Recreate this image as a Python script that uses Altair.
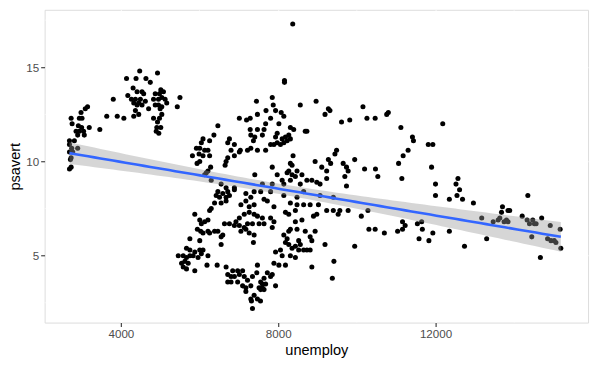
import altair as alt
import numpy as np
import pandas as pd

# unemploy / psavert values (grouped by region)
unemploy = [
    4478, 4931, 4143, 4385, 4637, 4747, 4310, 4176, 4411, 4537, 4579, 5015, 4981, 4873, 5082,
    4268, 4369, 4495, 4327, 4453, 4621, 4830, 4956, 5040, 5124, 5502, 4411, 4537, 4705, 4873,
    4956, 5040, 5165, 5434, 4369, 4453, 4327, 4998, 5040, 4981, 4830, 4931, 3806, 3640, 3907,
    4075, 3152, 3094, 2986, 2943, 3011, 2734, 2759, 2918, 3001, 2860, 2943, 3051, 3195, 2901,
    3069, 3464, 4913, 5014, 4898, 4964, 2692, 2817, 2692, 2750, 2901, 2692, 2775, 2734, 2717,
    2734, 2692,
    7447, 7690, 7472, 7012, 7195, 7288, 6466, 7288, 7472, 7640, 7304, 7405, 7598, 7371, 6088,
    6046, 6256, 6365, 6760, 6717, 6886, 6801, 5920, 6005, 6130, 6214, 5988, 6088, 6256, 5819,
    7037, 7220, 7304, 7472, 7681, 7012, 6886, 6717, 6675, 6650, 6005, 5937, 6282, 6214, 6172,
    6130, 7405, 6549, 6675, 6886, 6297,
    8370, 8160, 8160, 7849, 7874, 7933, 8562, 8964, 9316, 10156, 8076,
    9276, 9191, 8143, 7807, 7681, 8018, 8310, 8394, 7975, 7933, 9611, 9820, 8688, 8730, 8185,
    8269, 8310, 7975, 8058, 8143, 7892, 7807, 8227, 8101, 8378, 9485, 9443, 9276, 9334, 8939,
    9108, 9233, 9653, 9737, 9779, 9946, 8310, 8353, 7849, 8269, 8479, 8227, 7975, 8353, 8437,
    8310, 8101, 8143, 8730, 8856, 8982, 9065, 9695, 8604, 8562, 7849, 7598, 9233,
    6466, 6591, 6717, 6886, 6508, 6675, 6423, 6760, 7178, 7304, 7388, 7555, 6382, 6297, 6256,
    6549, 6675, 7178, 7388, 7052, 7263, 7640, 5879, 6005, 6130, 6214, 6046, 6634, 6760, 6886,
    7012, 6926, 7012, 7137, 7263, 7388, 7472, 7598, 7640, 7514, 7346, 7220, 7137, 5945, 6030,
    6088, 6214, 6256, 6382, 6466, 6591, 6549, 7052, 7178, 7263, 7388, 6549, 7371, 5754, 6005,
    5668, 5754, 5879, 6005, 6088, 5459, 5585, 5668, 5754, 5837, 5962, 6046, 6214, 5627, 5711,
    5543, 5585, 5668, 5879, 6189, 6448, 6675, 6843, 6969, 7095, 6717, 6801, 6886, 7012, 7137,
    7220, 6717, 6801, 6969, 7095, 7178, 7472, 7455, 7346, 7304, 7178, 7388, 7472, 7304, 7598,
    7640, 7514, 7346, 7320, 7550,
    7807, 8143, 8479, 8647, 9065, 9402, 7724, 8310, 8479, 8647, 8813, 9024, 9233, 9402, 9568,
    9779, 9526, 8982, 8898, 8185, 8269, 8437, 7892, 7807, 7892, 7849, 8437, 8604, 8310, 8269,
    8479, 8143, 8227, 8185, 8269, 8521, 8562, 8437, 8353, 8521, 8647, 8730, 8813, 8058, 7933,
    8101, 8310, 8437, 8688, 8939, 8813, 8856, 9191, 9946, 7892, 8018, 8185, 7724, 7849, 7640,
    7555, 7681, 7598, 7555, 7933, 7807, 8856, 9417, 9377,
    10257, 10466, 10760, 10801, 11120, 11414, 11440, 12185, 11817, 11933, 11304, 11178, 11062,
    10197, 10474, 10534, 11145, 11900, 9737, 12001, 12001, 12353, 12547, 12522, 12572, 12613,
    12688, 10282, 10114, 10307, 10466, 10700, 11037, 11162, 11229, 11162, 11540, 11649, 11666,
    11933, 12353, 11582, 11833, 12738,
    12965, 14349, 13176, 13468, 13636, 13679, 13704, 13845, 13888, 13745, 13805, 13845, 13594,
    14205, 14331, 14391, 14474, 14517, 14559, 14701, 14449, 14919, 15171, 14851, 14937, 15020,
    15063, 15188, 14668, 13302,
]
psavert = [
    14.8, 14.7, 14.4, 14.4, 14.4, 14.2, 13.9, 13.5, 13.7, 13.7, 13.6, 13.8, 13.6, 13.6, 13.7,
    13.3, 13.3, 13.3, 13.1, 13.1, 13.2, 13.3, 13.3, 13.4, 13.3, 13.4, 13.0, 13.0, 12.8, 13.0,
    13.0, 12.9, 13.1, 12.9, 12.7, 12.5, 12.4, 12.8, 12.5, 12.3, 12.3, 12.1, 13.3, 12.4, 12.4,
    12.3, 12.9, 12.8, 12.6, 12.3, 12.3, 12.3, 12.0, 11.9, 11.8, 11.6, 11.6, 11.6, 11.8, 11.4,
    11.4, 11.7, 11.8, 11.8, 11.6, 11.5, 11.1, 11.1, 10.9, 10.7, 10.7, 10.5, 10.5, 10.2, 10.1,
    9.7, 9.6,
    13.2, 12.7, 12.5, 12.3, 12.2, 12.3, 11.9, 11.7, 11.7, 11.7, 11.4, 11.3, 11.4, 11.1, 11.2,
    11.0, 11.1, 11.4, 11.2, 11.0, 10.9, 10.6, 10.7, 10.7, 10.6, 10.6, 10.4, 10.3, 10.3, 10.3,
    10.6, 10.6, 10.7, 10.6, 10.6, 10.5, 10.3, 10.2, 10.0, 9.8, 10.0, 9.9, 9.7, 9.5, 9.4,
    9.3, 9.3, 8.8, 8.6, 8.6, 9.0,
    17.3, 14.3, 14.2, 13.4, 13.0, 12.7, 13.0, 13.2, 12.7, 12.9, 12.6,
    12.8, 12.5, 12.4, 12.3, 12.0, 12.0, 11.8, 11.7, 11.5, 11.3, 12.1, 12.2, 11.6, 11.6, 11.3,
    11.4, 11.2, 11.0, 10.9, 11.0, 10.9, 10.9, 11.1, 11.2, 10.3, 10.6, 10.4, 10.1, 9.9, 10.0,
    9.7, 9.5, 9.9, 9.7, 9.5, 10.1, 9.9, 9.8, 9.7, 9.5, 9.5, 9.4, 9.3, 9.3, 9.2,
    9.0, 9.0, 8.8, 9.0, 9.0, 8.9, 8.8, 9.2, 9.3, 8.8, 8.8, 8.8, 9.1,
    8.4, 8.3, 8.4, 8.5, 8.1, 8.1, 8.2, 8.2, 8.3, 8.1, 8.4, 8.4, 7.8, 7.5, 7.4,
    7.8, 7.9, 7.9, 7.7, 7.7, 7.6, 8.0, 7.2, 6.9, 6.8, 6.9, 6.7, 6.7, 6.7, 6.6,
    6.6, 6.8, 7.0, 7.2, 7.3, 7.2, 7.1, 7.0, 6.7, 6.7, 6.7, 6.7, 6.5, 6.4, 6.3,
    6.2, 6.3, 6.2, 6.3, 6.3, 6.1, 6.0, 6.3, 6.4, 6.2, 6.1, 5.6, 5.7, 5.9, 5.8,
    5.4, 5.3, 5.2, 5.3, 5.3, 5.0, 5.0, 4.9, 5.0, 5.0, 4.9, 5.1, 5.0, 4.7, 4.6,
    4.6, 4.4, 4.3, 4.2, 4.5, 4.5, 4.4, 4.2, 4.2, 4.2, 4.0, 3.9, 3.9, 4.0, 3.9,
    3.7, 3.6, 3.6, 3.6, 3.4, 3.3, 4.5, 4.1, 3.9, 3.4, 3.1, 2.9, 2.7, 2.7, 3.5,
    3.2, 3.3, 2.2, 2.6, 2.6,
    8.4, 8.2, 8.1, 8.4, 8.2, 8.1, 7.9, 7.8, 7.7, 7.7, 7.7, 7.7, 7.4, 7.4, 7.4,
    7.4, 7.2, 7.2, 7.1, 7.3, 7.2, 7.4, 7.6, 7.0, 6.8, 6.5, 6.8, 6.9, 6.4, 6.3,
    6.4, 6.1, 5.9, 5.7, 5.6, 5.8, 5.6, 5.5, 5.4, 5.3, 5.3, 5.3, 5.3, 5.3, 5.2,
    5.0, 5.0, 4.9, 6.3, 6.3, 6.0, 5.8, 5.6, 5.5, 4.6, 4.5, 4.5, 4.1, 4.0, 3.8,
    3.6, 3.5, 3.3, 3.2, 3.4, 3.9, 4.4, 4.7, 3.8,
    12.3, 12.3, 12.5, 12.6, 11.8, 11.3, 11.1, 12.0, 10.9, 10.9, 10.6, 10.3, 9.9,
    9.6, 9.6, 9.2, 9.1, 9.7, 8.7, 8.8, 8.2, 8.0, 8.2, 8.8, 9.1, 8.5,
    8.0, 7.4, 7.1, 6.4, 6.4, 6.2, 6.3, 6.8, 6.6, 6.4, 6.7, 6.8, 6.4,
    6.2, 6.3, 5.9, 5.8, 5.5,
    7.8, 8.2, 7.0, 6.8, 7.0, 7.3, 7.6, 7.4, 7.4, 6.8, 6.9, 6.8, 6.9,
    7.1, 6.9, 6.7, 6.9, 6.7, 6.7, 7.0, 6.0, 6.6, 6.4, 5.9, 5.8, 5.8,
    5.7, 5.4, 4.9, 5.9,
]

x_major = [4000, 8000, 12000]
x_minor = [6000, 10000, 14000]
y_major = [5, 10, 15]
y_minor = [2.5, 7.5, 12.5, 17.5]

df = pd.DataFrame({"unemploy": unemploy, "psavert": psavert})

# linear model fit with 95% confidence band (like geom_smooth(method = "lm"))
xv = np.array(unemploy, dtype=float)
yv = np.array(psavert, dtype=float)
n = len(xv)
b1, b0 = np.polyfit(xv, yv, 1)
resid = yv - (b0 + b1 * xv)
s = np.sqrt((resid ** 2).sum() / (n - 2))
xbar = xv.mean()
sxx = ((xv - xbar) ** 2).sum()
xs = np.linspace(xv.min(), xv.max(), 80)
fit = b0 + b1 * xs
se = s * np.sqrt(1.0 / n + (xs - xbar) ** 2 / sxx)
tval = 1.965
band = pd.DataFrame({"unemploy": xs, "fit": fit, "lo": fit - tval * se, "hi": fit + tval * se})

FONT = "Liberation Sans"
xscale = alt.Scale(domain=[2060, 15880], nice=False, zero=False)
yscale = alt.Scale(domain=[1.45, 18.05], nice=False, zero=False)

xaxis = alt.Axis(values=x_major, format="d", grid=True, gridColor="white", gridWidth=1.1,
                 domain=False, tickColor="#333333", tickWidth=1.1, tickSize=4,
                 labelColor="#4D4D4D", labelFontSize=11.7, labelFont=FONT, labelPadding=2,
                 title="unemploy", titleFont=FONT, titleFontSize=14.7, titleColor="black",
                 titleFontWeight="normal", titlePadding=3)
yaxis = alt.Axis(values=y_major, format="d", grid=True, gridColor="white", gridWidth=1.1,
                 domain=False, tickColor="#333333", tickWidth=1.1, tickSize=4,
                 labelColor="#4D4D4D", labelFontSize=11.7, labelFont=FONT, labelPadding=2,
                 title="psavert", titleFont=FONT, titleFontSize=14.7, titleColor="black",
                 titleFontWeight="normal", titlePadding=3)

minor_x = alt.Chart(pd.DataFrame({"unemploy": x_minor})).mark_rule(
    color="white", strokeWidth=0.55).encode(
    x=alt.X("unemploy:Q", scale=xscale, axis=xaxis))
minor_y = alt.Chart(pd.DataFrame({"psavert": y_minor})).mark_rule(
    color="white", strokeWidth=0.55).encode(
    y=alt.Y("psavert:Q", scale=yscale, axis=yaxis))

points = alt.Chart(df).mark_circle(color="black", opacity=1, size=26).encode(
    x=alt.X("unemploy:Q", scale=xscale, axis=xaxis),
    y=alt.Y("psavert:Q", scale=yscale, axis=yaxis),
)

ribbon = alt.Chart(band).mark_area(color="#999999", opacity=0.4).encode(
    x=alt.X("unemploy:Q", scale=xscale, axis=xaxis),
    y=alt.Y("lo:Q", scale=yscale, axis=yaxis),
    y2="hi:Q",
)

line = alt.Chart(band).mark_line(color="#3366FF", strokeWidth=2.6).encode(
    x=alt.X("unemploy:Q", scale=xscale, axis=xaxis),
    y=alt.Y("fit:Q", scale=yscale, axis=yaxis),
)

chart = alt.layer(minor_x, minor_y, points, ribbon, line).properties(
    width=549,
    height=316,
    autosize=alt.AutoSizeParams(type="none"),
    padding={"left": 37, "top": 0, "right": 4, "bottom": 40},
    background="white",
).configure_view(fill="#EBEBEB", strokeWidth=0).configure(font=FONT)

chart.save("out.html", embed_options={"renderer": "svg", "actions": False})
